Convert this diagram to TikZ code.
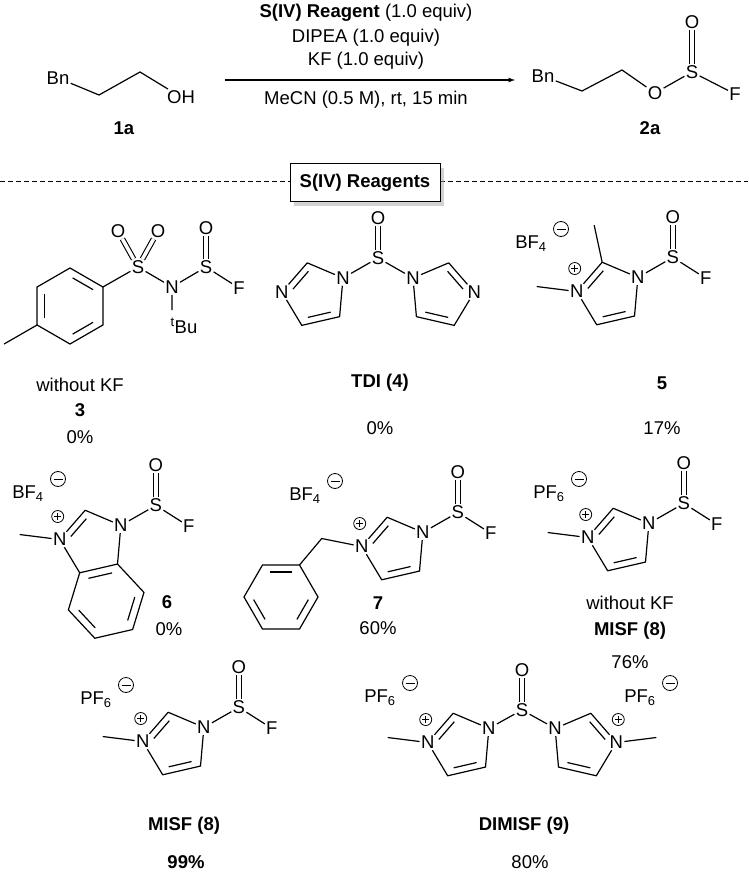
\documentclass[tikz,border=0pt]{standalone}
\usepackage{fontspec}
\setmainfont{Liberation Sans}
\usetikzlibrary{calc,shadows}
\newcommand\fsz{\fontsize{18.5}{21}\selectfont}
\tikzset{
  atom/.style={inner sep=1.2pt,font=\fsz},
  lbl/.style={inner sep=0pt,font=\fsz},
  blbl/.style={inner sep=0pt,font=\fsz\bfseries},
  bd/.style={line width=1.2},
  dbl/.style={line width=1.1,double,double distance=3.5pt},
  inner/.style={line width=1.2,shorten <=3pt,shorten >=3pt}
}
% imidazole ring: #1 prefix, #2 center, #3 xscale, #4 draw C4=C5 (1/0)
\newcommand\imidring[4]{%
\begin{scope}[shift={#2},xscale=#3]
\coordinate (#1o) at (0,0);
\coordinate (#1c2) at (-103:33);
\node[atom] (#1n1) at (-31:33) {N};
\coordinate (#1c5) at (41:33);
\coordinate (#1c4) at (113:33);
\node[atom] (#1n3) at (185:33) {N};
\end{scope}
\draw[bd] (#1c2)--(#1n1)--(#1c5)--(#1c4)--(#1n3)--(#1c2);
\draw[bd,shorten <=1pt,shorten >=5pt] ($(#1o)!0.76!(#1c2)$)--($(#1o)!0.76!(#1n3)$);
\ifnum#4=1 \draw[inner] ($(#1o)!0.76!(#1c5)$)--($(#1o)!0.76!(#1c4)$);\fi}
% S(O)F group: #1 prefix, #2 N node
\newcommand\sfgroup[2]{%
\node[atom] (#1s) at ($(#2)+(35,-20)$) {S};
\node[atom] (#1ox) at ($(#1s)+(0,-40)$) {O};
\node[atom] (#1f) at ($(#1s)+(33,21)$) {F};
\draw[bd] (#2)--(#1s)--(#1f);
\draw[dbl] (#1s)--(#1ox);}
\newcommand\plusc[2]{\node[circle,draw,line width=0.8,minimum size=12pt,inner sep=0pt] (#1) at #2 {};
  \draw[line width=0.8] ($(#1)+(-3.5,0)$)--++(7,0) ($(#1)+(0,-3.5)$)--++(0,7);}
\newcommand\minusc[2]{\node[circle,draw,line width=0.8,minimum size=15pt,inner sep=0pt] (#1) at #2 {};
  \draw[line width=0.8] ($(#1)+(-4.5,0)$)--++(9,0);}
\newcommand\cion[4]{\node[lbl] (#1) at #2 {#3\textsubscript{#4}};
  \minusc{#1m}{($(#1)+(30,-15)$)}}
\newcommand\methyl[3]{\coordinate (#1) at ($(#2)+(#3)$); \draw[bd] (#2)--(#1);}

\begin{document}
\begin{tikzpicture}[x=1pt,y=-1pt]
\useasboundingbox (0,0) rectangle (748,874);
% ---------- reaction ----------
\node[atom] (bn) at (58,78) {Bn};
\coordinate (r1) at (99,95);
\coordinate (r2) at (140,72);
\node[atom] (oh) at (181,97) {OH};
\draw[bd] (bn)--(r1)--(r2)--(oh);
\node[blbl] (l1a) at (124,128) {1a};
\coordinate (ar1) at (225,80);
\coordinate (ar2) at (515,80);
\draw[line width=1.2,-latex] (ar1)--(ar2);
\node[lbl] (c1) at (366,13) {\textbf{S(IV) Reagent} (1.0 equiv)};
\node[lbl] (c2) at (366,38) {DIPEA (1.0 equiv)};
\node[lbl] (c3) at (366,61) {KF (1.0 equiv)};
\node[lbl] (c4) at (366,100) {MeCN (0.5 M), rt, 15 min};
\node[atom] (pbn) at (543,76) {Bn};
\coordinate (p1) at (582,91);
\coordinate (p2) at (622,70);
\node[atom] (po) at (655,93) {O};
\node[atom] (ps) at (692,72) {S};
\node[atom] (pox) at (692,22) {O};
\node[atom] (pf) at (735,94) {F};
\draw[bd] (pbn)--(p1)--(p2)--(po)--(ps)--(pf);
\draw[dbl] (ps)--(pox);
\node[blbl] (l2a) at (650,128) {2a};
% ---------- separator ----------
\coordinate (dl) at (0,182); \coordinate (dr) at (748,182);
\draw[line width=1,dash pattern=on 5pt off 3pt] (dl)--(dr);
\node[draw,fill=white,line width=1,minimum width=150,minimum height=38,font=\fsz\bfseries,
  drop shadow={shadow xshift=4pt,shadow yshift=-4pt,fill=gray!70}] (box) at (365,183) {S(IV) Reagents};
% ---------- 3 ----------
\begin{scope}[shift={(70,306)}]
\foreach \i/\a in {1/-90,2/-30,3/30,4/90,5/150,6/210} \coordinate (t\i) at (\a:38);
\coordinate (tc) at (0,0);
\end{scope}
\draw[bd] (t1)--(t2)--(t3)--(t4)--(t5)--(t6)--cycle;
\draw[inner] ($(tc)!0.78!(t1)$)--($(tc)!0.78!(t2)$);
\draw[inner] ($(tc)!0.78!(t3)$)--($(tc)!0.78!(t4)$);
\draw[inner] ($(tc)!0.78!(t5)$)--($(tc)!0.78!(t6)$);
\methyl{tme}{t5}{-33,19}
\node[atom] (ts1) at (138,267) {S};
\node[atom] (to1) at (118,231) {O};
\node[atom] (to2) at (158,231) {O};
\node[atom] (tn) at (172,287) {N};
\node[atom] (ts2) at (206,267) {S};
\node[atom] (to3) at (206,228) {O};
\node[atom] (tf) at (239,288) {F};
\node[lbl] (tbu) at (184,326) {\textsuperscript{t}Bu};
\coordinate (tnb) at (172,310);
\draw[bd] (t2)--(ts1)--(tn)--(ts2)--(tf) (tn)--(tnb);
\draw[dbl] (ts1)--(to1); \draw[dbl] (ts1)--(to2); \draw[dbl] (ts2)--(to3);
\node[lbl] (l3a) at (80,385) {without KF};
\node[blbl] (l3b) at (80,410) {3};
\node[lbl] (l3c) at (80,437) {0\%};
% ---------- TDI 4 ----------
\imidring{da}{(314.7,295)}{1}{1}
\imidring{db}{(441.3,295)}{-1}{1}
\node[atom] (ds) at (378,258) {S};
\node[atom] (dox) at (378,218) {O};
\draw[bd] (dan1)--(ds)--(dbn1);
\draw[dbl] (ds)--(dox);
\node[blbl] (l4a) at (380,383) {TDI (4)};
\node[lbl] (l4b) at (380,428) {0\%};
% ---------- 5 ----------
\imidring{e}{(609.6,294.4)}{1}{1}
\sfgroup{e}{en1}
\methyl{eme}{en3}{-40,-5}
\methyl{eme2}{ec2}{-8,-37}
\plusc{ep}{($(en3)+(-2,-23)$)}
\cion{ebf}{(531,244)}{BF}{4}
\node[blbl] (l5a) at (662,383) {5};
\node[lbl] (l5b) at (662,428) {17\%};
% ---------- 6 ----------
\imidring{f}{(92.6,542.4)}{1}{0}
\sfgroup{f}{fn1}
\methyl{fme}{fn3}{-40,-5}
\plusc{fp}{($(fn3)+(-2,-23)$)}
\cion{fbf}{(28,494)}{BF}{4}
\coordinate (fm) at ($(fc4)!0.5!(fc5)$);
\coordinate (fhc) at ($(fm)!1.732!-90:(fc5)$);
\coordinate (fh2) at ($(fc4)!2!(fhc)$);
\coordinate (fh3) at ($(fc5)!2!(fhc)$);
\coordinate (fh1) at ($(fc5)+(fh2)-(fhc)$);
\coordinate (fh4) at ($(fh1)!2!(fhc)$);
\draw[bd] (fc5)--(fh1)--(fh2)--(fh3)--(fh4)--(fc4);
\draw[inner] ($(fhc)!0.78!(fc4)$)--($(fhc)!0.78!(fc5)$);
\draw[inner] ($(fhc)!0.78!(fh1)$)--($(fhc)!0.78!(fh2)$);
\draw[inner] ($(fhc)!0.78!(fh3)$)--($(fhc)!0.78!(fh4)$);
\node[blbl] (l6a) at (167,602) {6};
\node[lbl] (l6b) at (169,629) {0\%};
% ---------- 7 ----------
\imidring{g}{(394.6,549.4)}{1}{1}
\sfgroup{g}{gn1}
\plusc{gp}{($(gn3)+(-2,-23)$)}
\cion{gbf}{(305,496)}{BF}{4}
\coordinate (gch) at ($(gn3)+(-40,-8)$);
\begin{scope}[shift={(281,597)}]
\foreach \i/\a in {1/-120,2/-60,3/0,4/60,5/120,6/180} \coordinate (gh\i) at (\a:37);
\coordinate (ghc) at (0,0);
\end{scope}
\draw[bd] (gn3)--(gch)--(gh2);
\draw[bd] (gh1)--(gh2)--(gh3)--(gh4)--(gh5)--(gh6)--cycle;
\draw[inner] ($(ghc)!0.78!(gh1)$)--($(ghc)!0.78!(gh2)$);
\draw[inner] ($(ghc)!0.78!(gh3)$)--($(ghc)!0.78!(gh4)$);
\draw[inner] ($(ghc)!0.78!(gh5)$)--($(ghc)!0.78!(gh6)$);
\node[blbl] (l7a) at (378,603) {7};
\node[lbl] (l7b) at (378,628) {60\%};
% ---------- MISF row 2 ----------
\imidring{h}{(620.6,540.4)}{1}{1}
\sfgroup{h}{hn1}
\methyl{hme}{hn3}{-40,-5}
\plusc{hp}{($(hn3)+(-2,-23)$)}
\cion{hpf}{(549,494)}{PF}{6}
\node[lbl] (l8a) at (630,603) {without KF};
\node[blbl] (l8b) at (630,631) {MISF (8)};
\node[lbl] (l8c) at (630,662) {76\%};
% ---------- MISF row 3 ----------
\imidring{k}{(175.6,744.4)}{1}{1}
\sfgroup{k}{kn1}
\methyl{kme}{kn3}{-40,-5}
\plusc{kp}{($(kn3)+(-2,-23)$)}
\cion{kpf}{(96,700)}{PF}{6}
\node[blbl] (l9a) at (184,826) {MISF (8)};
\node[blbl] (l9b) at (186,862) {99\%};
% ---------- DIMISF ----------
\imidring{ma}{(460.6,745.4)}{1}{1}
\imidring{mb}{(583.4,745.4)}{-1}{1}
\node[atom] (ms) at (522,710) {S};
\node[atom] (mox) at (522,670) {O};
\draw[bd] (man1)--(ms)--(mbn1);
\draw[dbl] (ms)--(mox);
\methyl{mame}{man3}{-40,-5}
\methyl{mbme}{mbn3}{40,-5}
\plusc{map}{($(man3)+(-2,-23)$)}
\plusc{mbp}{($(mbn3)+(2,-23)$)}
\cion{mapf}{(380,698)}{PF}{6}
\cion{mbpf}{(640,698)}{PF}{6}
\node[blbl] (l10a) at (524,826) {DIMISF (9)};
\node[lbl] (l10b) at (530,862) {80\%};
\end{tikzpicture}
\end{document}
